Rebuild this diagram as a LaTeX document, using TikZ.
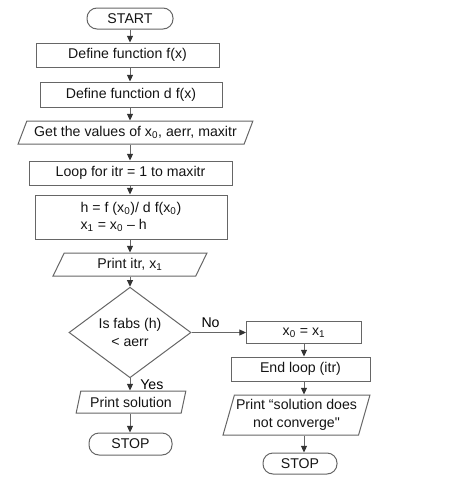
\documentclass[tikz,border=0pt]{standalone}
\usepackage{fontspec}
\setmainfont{Liberation Sans}
\usepackage{tikz}
\usetikzlibrary{arrows.meta,shapes.geometric}
\newdimen\pxu
\pxu=0.75pt

\begin{document}
\begin{tikzpicture}[x=0.75pt,y=-0.75pt,
  font=\fontsize{10.6}{13}\selectfont,
  boxline/.style={draw=black!60, line width=0.75pt, text=black!92, inner sep=0pt},
  procbox/.style={boxline, rectangle},
  termbox/.style={boxline, rectangle, rounded corners=7.5pt},
  iobox/.style={boxline, trapezium, trapezium stretches=true},
  condbox/.style={boxline, diamond, align=center},
  arr/.style={draw=black!60, line width=0.75pt, -{Triangle[length=5pt,width=4.5pt,color=black!80]}}]

\useasboundingbox (0, 0) rectangle (457, 482);

% Main column
\node[termbox, minimum width=86\pxu, minimum height=21\pxu] (start) at (130, 18.5) {START};
\node[procbox, minimum width=183\pxu, minimum height=24\pxu] (deff) at (127.5, 55) {Define function f(x)};
\node[procbox, minimum width=182\pxu, minimum height=25\pxu] (defdf) at (131, 94.5) {Define function d f(x)};
\node[iobox, trapezium left angle=57, trapezium right angle=123, minimum width=235\pxu, minimum height=23\pxu] (getval) at (135.5, 132.5) {Get the values of x\textsubscript{0}, aerr, maxitr};
\node[procbox, minimum width=203\pxu, minimum height=24\pxu] (loop) at (130.5, 173) {Loop for itr = 1 to maxitr};
\node[procbox, minimum width=192\pxu, minimum height=44\pxu, align=left] (newton) at (131, 217) {h = f (x\textsubscript{0})/ d f(x\textsubscript{0})\\x\textsubscript{1} = x\textsubscript{0} -- h};
\node[iobox, trapezium left angle=66, trapezium right angle=114, minimum width=154\pxu, minimum height=23\pxu] (printitr) at (130, 264.5) {Print itr, x\textsubscript{1}};
\node[condbox, minimum width=122\pxu, minimum height=81\pxu] (check) at (130, 332.5) {Is fabs (h)\\< aerr};
\node[iobox, trapezium left angle=70, trapezium right angle=110, minimum width=110\pxu, minimum height=22\pxu] (printsol) at (131, 402) {Print solution};
\node[termbox, minimum width=83\pxu, minimum height=22\pxu] (stop) at (130.5, 444) {STOP};

% Right column
\node[procbox, minimum width=115\pxu, minimum height=22\pxu] (update) at (304, 332.5) {x\textsubscript{0} = x\textsubscript{1}};
\node[procbox, minimum width=139\pxu, minimum height=24\pxu] (endloop) at (300.5, 369) {End loop (itr)};
\node[iobox, trapezium left angle=70, trapezium right angle=110, minimum width=147\pxu, minimum height=40\pxu, align=center] (printnc) at (296.5, 415) {Print ``solution does\\not converge\textquotedbl};
\node[termbox, minimum width=74\pxu, minimum height=21\pxu] (stoptwo) at (300, 463.5) {STOP};

% Arrows
\draw[arr] (start.south) -- (start |- deff.north);
\draw[arr] (start |- deff.south) -- (start |- defdf.north);
\draw[arr] (start |- defdf.south) -- (start |- getval.north);
\draw[arr] (start |- getval.south) -- (start |- loop.north);
\draw[arr] (start |- loop.south) -- (start |- newton.north);
\draw[arr] (start |- newton.south) -- (start |- printitr.north);
\draw[arr] (start |- printitr.south) -- (check.north);
\draw[arr] (check.south) -- node[right, xshift=4pt] {Yes} (start |- printsol.north);
\draw[arr] (start |- printsol.south) -- (start |- stop.north);
\draw[arr] (check.east) -- node[above, pos=0.35] {No} (update.west);
\draw[arr] (update.south) -- (update |- endloop.north);
\draw[arr] (update |- endloop.south) -- (update |- printnc.north);
\draw[arr] (update |- printnc.south) -- (update |- stoptwo.north);
\end{tikzpicture}
\end{document}
